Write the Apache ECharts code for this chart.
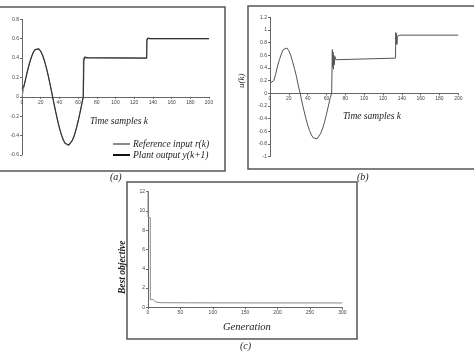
<!DOCTYPE html>
<html><head><meta charset="utf-8">
<script src="https://cdn.jsdelivr.net/npm/echarts@6/dist/echarts.min.js"></script>
<style>html,body{margin:0;padding:0;background:#fff}#c{width:474px;height:355px}</style>
</head><body><div id="c"></div>
<script>
// Panel (a): reference input r(k) and plant output y(k+1)
const refK = [0,2,4,6,8,10,12,14,16,18,20,22,24,26,28,30,32,34,36,38,40,42,44,46,48,50,52,54,56,58,60,62,64,65.5,65.6,133.3,133.4,200];
const refV = [0,0.095,0.187,0.272,0.347,0.409,0.457,0.487,0.5,0.494,0.47,0.429,0.372,0.302,0.221,0.131,0.036,-0.06,-0.153,-0.24,-0.32,-0.387,-0.44,-0.478,-0.497,-0.498,-0.481,-0.446,-0.396,-0.33,-0.252,-0.165,-0.072,0,0.4,0.4,0.6,0.6];
const outK = [0,1,2,4,6,8,10,12,14,16,18,20,22,24,26,28,30,32,34,36,38,40,42,44,46,48,50,52,54,56,58,60,62,64,65.5,66.2,67,68,69,70,72,133.3,133.6,134.5,135.5,137,200];
const outV = [0.085,0.09,0.11,0.19,0.272,0.347,0.409,0.457,0.487,0.5,0.494,0.47,0.429,0.372,0.302,0.221,0.131,0.036,-0.06,-0.153,-0.24,-0.32,-0.387,-0.44,-0.478,-0.497,-0.498,-0.481,-0.446,-0.396,-0.33,-0.252,-0.165,-0.072,0,0.37,0.41,0.42,0.415,0.405,0.4,0.4,0.58,0.605,0.6,0.6,0.6];
// Panel (b): control signal u(k)
const uK = [0,1,2,3,4,6,8,10,12,14,16,18,20,22,24,26,28,30,32,34,36,38,40,42,44,46,48,50,52,54,56,58,60,62,64,65.5,66.2,66.6,67,67.4,67.8,68.3,69,70,71,72,133.3,133.6,134,134.4,134.8,135.3,136,137,138,200];
const uV = [0.21,0.17,0.15,0.16,0.2,0.3,0.43,0.53,0.62,0.69,0.72,0.715,0.67,0.6,0.5,0.39,0.27,0.13,0,-0.14,-0.27,-0.39,-0.5,-0.59,-0.66,-0.705,-0.725,-0.72,-0.69,-0.63,-0.55,-0.45,-0.33,-0.2,-0.07,0,0.69,0.42,0.65,0.38,0.6,0.45,0.58,0.53,0.56,0.555,0.555,0.96,0.78,0.94,0.77,0.9,0.93,0.91,0.918,0.918];
// Panel (c): best objective per generation
const genK = [0,0,1,2,3.5,3.6,8,9,10,12,15,20,40,100,200,300];
const genV = [12,9.4,9.4,9.3,9.3,0.8,0.8,0.85,0.6,0.55,0.5,0.48,0.47,0.46,0.45,0.45];
// tick settings
const xTicksA = {min:0, max:200, interval:20};
const yTicksA = {min:-0.6, max:0.8, interval:0.2};
const yTicksB = {min:-1, max:1.2, interval:0.2};
const xTicksC = {min:0, max:300, interval:50};
const yTicksC = {min:0, max:12, interval:2};

const grids = [
  {left:22, top:19.3, width:187, height:135.7},
  {left:270, top:17.3, width:188.3, height:139.3},
  {left:148, top:191.7, width:194.3, height:115.6}
];
const pair = (k, v) => k.map((x, i) => [x, v[i]]);
const zeroOffset = (g, yt) => -g.height * (0 - yt.min) / (yt.max - yt.min);
const serif = '"Liberation Serif","DejaVu Serif",serif';
const tickFont = {fontSize:5, color:'#444', fontFamily:'"Liberation Sans",sans-serif', margin:3};
const axisLine = {lineStyle:{color:'#666', width:1}};
const axisTick = {length:2, lineStyle:{color:'#666'}};
function xAx(gi, t, off){return Object.assign({type:'value', gridIndex:gi, position:'bottom', offset:off, axisLine:Object.assign({onZero:false}, axisLine), axisTick:axisTick, axisLabel:tickFont, splitLine:{show:false}}, t);}
function yAx(gi, t){return Object.assign({type:'value', gridIndex:gi, axisLine:Object.assign({show:true, onZero:false}, axisLine), axisTick:Object.assign({show:true}, axisTick), axisLabel:tickFont, splitLine:{show:false}}, t);}
function txt(x, y, s, size, opts){return Object.assign({type:'text', left:x, top:y, style:{text:s, font:'italic '+size+'px '+serif, fill:'#222'}}, opts||{});}

const chart = echarts.init(document.getElementById('c'), null, {renderer:'canvas'});
chart.setOption({
  animation:false,
  backgroundColor:'#fff',
  grid:grids,
  xAxis:[xAx(0, xTicksA, zeroOffset(grids[0], yTicksA)), xAx(1, xTicksA, zeroOffset(grids[1], yTicksB)), xAx(2, xTicksC, 0)],
  yAxis:[yAx(0, yTicksA), yAx(1, yTicksB), yAx(2, yTicksC)],
  legend:{left:113, top:139, padding:0, orient:'vertical', itemGap:1, itemWidth:17, itemHeight:2, icon:'rect',
    textStyle:{fontFamily:serif, fontStyle:'italic', fontSize:9.5, color:'#222', padding:[0,0,0,-2]},
    data:[{name:'Reference input r(k)', itemStyle:{color:'#8a8a8a'}}, {name:'Plant output y(k+1)', itemStyle:{color:'#111'}}]},
  series:[
    {name:'Reference input r(k)', type:'line', xAxisIndex:0, yAxisIndex:0, data:pair(refK, refV), showSymbol:false, lineStyle:{color:'#8a8a8a', width:1}, itemStyle:{color:'#8a8a8a'}},
    {name:'Plant output y(k+1)', type:'line', xAxisIndex:0, yAxisIndex:0, data:pair(outK, outV), showSymbol:false, lineStyle:{color:'#333', width:1.2}, itemStyle:{color:'#111'}},
    {name:'u(k)', type:'line', xAxisIndex:1, yAxisIndex:1, data:pair(uK, uV), showSymbol:false, lineStyle:{color:'#555', width:1}},
    {name:'Best objective', type:'line', xAxisIndex:2, yAxisIndex:2, data:pair(genK, genV), showSymbol:false, lineStyle:{color:'#888', width:1}}
  ],
  graphic:[
    {type:'rect', shape:{x:-2, y:7, width:227, height:164}, style:{fill:'none', stroke:'#555', lineWidth:1.5}},
    {type:'rect', shape:{x:248, y:6, width:240, height:163}, style:{fill:'none', stroke:'#555', lineWidth:1.5}},
    {type:'rect', shape:{x:127, y:182, width:230, height:157}, style:{fill:'none', stroke:'#555', lineWidth:1.5}},
    txt(90, 116, 'Time samples k', 9.5),
    txt(343, 111, 'Time samples k', 9.5),
    txt(223, 322, 'Generation', 10.5),
    txt(110, 172, '(a)', 10),
    txt(357, 172, '(b)', 10),
    txt(240, 341, '(c)', 10),
    {type:'text', x:237, y:88, rotation:Math.PI/2, style:{text:'u(k)', font:'italic 9px '+serif, fill:'#222'}},
    {type:'text', x:118, y:294, rotation:Math.PI/2, style:{text:'Best objective', font:'italic bold 9.5px '+serif, fill:'#222'}}
  ]
});
</script></body></html>
